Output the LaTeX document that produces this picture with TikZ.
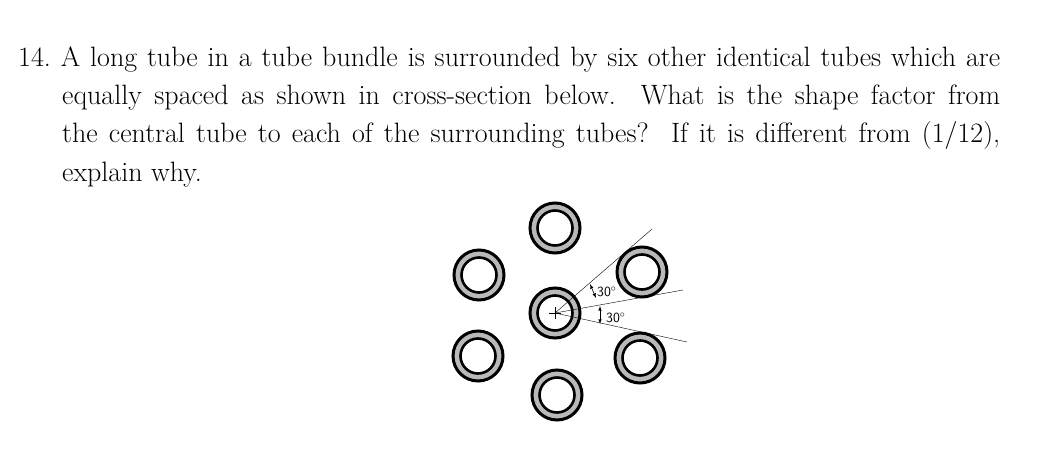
\documentclass[tikz,border=0pt]{standalone}
\usepackage{tikz}
\begin{document}
\begin{tikzpicture}[x=1pt,y=-1pt]
\tikzstyle{line}=[font=\fontsize{28}{38}\selectfont]
\tikzstyle{tube}=[circle, draw, line width=3pt, fill=gray!55, minimum size=50pt, inner sep=0pt]
\tikzstyle{bore}=[circle, draw, line width=2.6pt, fill=white, minimum size=35pt, inner sep=0pt]
\tikzstyle{ray}=[thin]
\tikzstyle{angle}=[<->, >=latex, semithick]
\useasboundingbox (0,0) rectangle (1055,453);

\node (l1) [line, anchor=base west, inner sep=0pt] at (18,66) {\hbox to 982pt{14.\ A long tube in a tube bundle is surrounded by six other identical tubes which are}};
\node (l2) [line, anchor=base west, inner sep=0pt] at (62,104) {\hbox to 938pt{equally spaced as shown in cross-section below.\ \ What is the shape factor from}};
\node (l3) [line, anchor=base west, inner sep=0pt] at (62,142) {\hbox to 938pt{the central tube to each of the surrounding tubes?\ \ If it is different from (1/12),}};
\node (l4) [line, anchor=base west, inner sep=0pt] at (62,181) {explain why.};

% tubes
\foreach \name/\px/\py in {c/555/313, t/555/228, lu/479/275, ll/478/356, b/557/395, ru/642/272, rl/640/358}{
  \node (\name) [tube] at (\px,\py) {};
  \node (\name i) [bore] at (\px,\py) {};
}

% sight lines
\coordinate (r1) at (652,229);
\coordinate (r2) at (683,290);
\coordinate (r3) at (687,342);
\draw [ray] (c.center) -- (r1);
\draw [ray] (c.center) -- (r2);
\draw [ray] (c.center) -- (r3);
\draw [ray] (549,313) -- (561,313);
\draw [ray] (555,307) -- (555,319);

% angle marks
\coordinate (a1) at (590,284);
\coordinate (a2) at (596,298);
\coordinate (a3) at (600,306);
\coordinate (a4) at (600,324);
\draw [angle] (a1) -- (a2);
\draw [angle] (a3) -- (a4);
\node (t1) [font=\sffamily\fontsize{14}{14}\selectfont, anchor=west, inner sep=1pt] at (596,292) {30$^\circ$};
\node (t2) [font=\sffamily\fontsize{14}{14}\selectfont, anchor=west, inner sep=1pt] at (605,318) {30$^\circ$};
\end{tikzpicture}
\end{document}
